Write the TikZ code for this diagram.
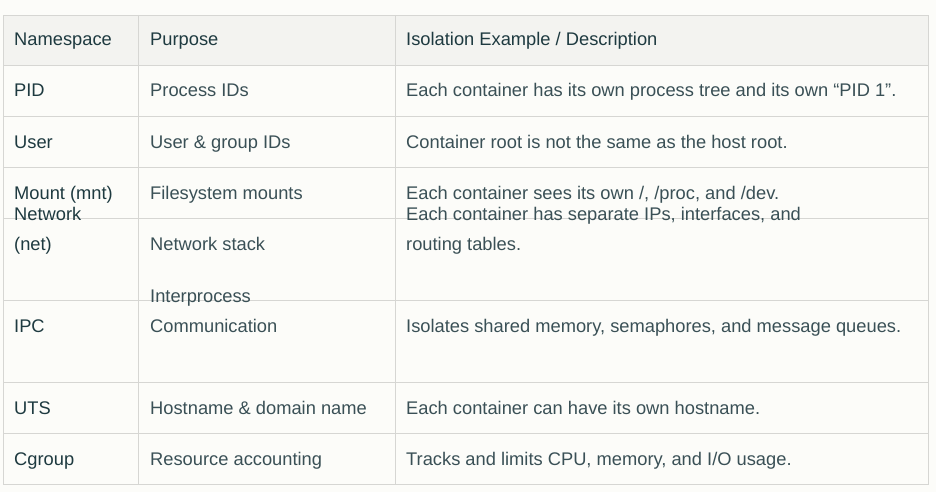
\documentclass[tikz,border=0pt]{standalone}
\usepackage{fontspec}
\setmainfont{Liberation Sans}
\usetikzlibrary{positioning}
\definecolor{pagebg}{HTML}{FCFCF9}
\definecolor{headbg}{HTML}{F3F3F0}
\definecolor{rule}{HTML}{D6D6D3}
\definecolor{keyink}{HTML}{1E3A40}
\definecolor{bodyink}{HTML}{3A5056}

\begin{document}
\begin{tikzpicture}[x=1pt, y=-1pt,
    cell/.style={anchor=base west, inner sep=0pt, align=left, font=\fontsize{18.3}{30}\selectfont, text=bodyink},
    keycell/.style={cell, text=keyink}]

    % page and header
    \fill[pagebg] (0,0) rectangle (936,492);
    \fill[headbg] (3,15) rectangle (928,65);

    % grid
    \foreach \y in {65,116,167,218,300,382,433}
        \draw[rule] (3,\y) -- (928,\y);
    \draw[rule] (3,15) rectangle (928,484);
    \draw[rule] (138,15) -- (138,484);
    \draw[rule] (395,15) -- (395,484);

    % header
    \node[keycell] (hname) at (14,46) {Namespace};
    \node[keycell] (hpurp) at (150,46) {Purpose};
    \node[keycell] (hdesc) at (406,46) {Isolation Example / Description};

    % rows
    \node[keycell] (pid) at (14,97) {PID};
    \node[cell] (pidp) at (150,97) {Process IDs};
    \node[cell] (pidd) at (406,97) {Each container has its own process tree and its own “PID 1”.};

    \node[keycell] (user) at (14,148) {User};
    \node[cell] (userp) at (150,148) {User \& group IDs};
    \node[cell] (userd) at (406,148) {Container root is not the same as the host root.};

    \node[keycell] (mnt) at (14,199) {Mount (mnt)};
    \node[cell] (mntp) at (150,199) {Filesystem mounts};
    \node[cell] (mntd) at (406,199) {Each container sees its own /, /proc, and /dev.};

    \node[keycell] (net) at (14,250) {Network\\(net)};
    \node[cell] (netp) at (150,250) {Network stack};
    \node[cell] (netd) at (406,250) {Each container has separate IPs, interfaces, and\\routing tables.};

    \node[keycell] (ipc) at (14,332) {IPC};
    \node[cell] (ipcp) at (150,332) {Interprocess\\Communication};
    \node[cell] (ipcd) at (406,332) {Isolates shared memory, semaphores, and message queues.};

    \node[keycell] (uts) at (14,414) {UTS};
    \node[cell] (utsp) at (150,414) {Hostname \& domain name};
    \node[cell] (utsd) at (406,414) {Each container can have its own hostname.};

    \node[keycell] (cg) at (14,465) {Cgroup};
    \node[cell] (cgp) at (150,465) {Resource accounting};
    \node[cell] (cgd) at (406,465) {Tracks and limits CPU, memory, and I/O usage.};
\end{tikzpicture}
\end{document}
